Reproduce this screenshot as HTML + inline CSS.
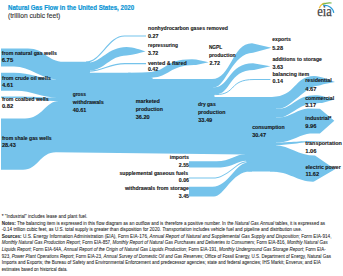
<!DOCTYPE html>
<html><head><meta charset="utf-8">
<style>
html,body{margin:0;padding:0;background:#fff;width:343px;height:276px;overflow:hidden}
svg{display:block}
</style></head><body>
<svg width="343" height="276" viewBox="0 0 343 276">
<g fill="#75c3eb">
<path d="M1,48.4 L28,48.4 C45,48.4 47,61.7 64,61.7 L90,61.7 L90,71.3 L89.9,72.7 L130,72.7 L152.6,77.5 L152.6,79.1 L212,79.1 L214.6,97 L276,97 L276,171.5 L248.4,171.5 L244.7,154.4 L56,152.3 C40,152.3 38,169.8 23,169.8 L1,169.8 Z"/>
<path d="M86,62.1 C101,62.1 108,36 124.5,36 L146,36" fill="none" stroke="#75c3eb" stroke-width="1.1"/>
<path d="M89,62.4 C101,62.4 108,47.1 126.5,47.1 C134,47.1 140,50 145.5,51.4 C140,52.8 134,54.6 126.5,55.4 C110,55.4 104,70.6 89,70.6 Z"/>
<path d="M89,71.2 C104,71.2 108,63.6 125,63.6 L146,63.6" fill="none" stroke="#75c3eb" stroke-width="1.1"/>
<path d="M128,72.7 L142,72.5 C170.8,72.5 162,59.3 192,59.3 L196,59.4 L208.7,62.2 L196,65 L194,65 C170.2,65 168.1,77.5 152.6,77.5 L128,77.5 Z"/>
<path d="M205,79.1 L212,79.1 C231,79.1 232,43.2 252,43.2 L271.4,47.7 L253,52.8 C232.5,52.8 225.5,87.2 214.6,87.2 L205,87.2 Z"/>
<path d="M205,87.2 L214.6,87.2 C229,87.2 229,63.2 253,63.2 L270.4,66.3 L254,70 C228.2,70 231.1,94.4 215.8,94.4 L205,94.4 Z"/>
<path d="M210,94.6 L215.8,94.6 C236.8,94.6 228.2,79.5 254,79.5 L270.4,79.5" fill="none" stroke="#75c3eb" stroke-width="1"/>
<path d="M270,97 L272,97 C296.1,96.7 294.1,76.1 314,76.1 C318,76.1 321,77.3 323.3,77.8 L335,81.9 L323.3,84.3 C321,84.8 319.5,85.8 318,85.8 C306.6,85.8 289.4,108.6 279.9,108.6 L270,108.6 Z"/>
<path d="M270,108.6 L279.9,108.6 C291.3,108.6 296.6,95.2 315,95.2 C318,95.2 321,95.6 322.1,95.9 L334.4,99.5 L322,103 C318,103.2 316,103.2 314,103.2 C300.4,103.2 288.4,117.5 279.9,117.5 L270,117.5 Z"/>
<path d="M270,117.5 L279.9,117.5 C289.7,117.5 298.9,108.6 308,108.6 L319.9,108.8 L334.3,120.7 L319.9,133.5 L310,133.6 C302.2,133.6 290.6,142.5 279,142.5 L270,142.5 Z"/>
<path d="M270,142.5 L279,142.5 C280.4,142.5 307.3,140.9 308,140.9 L333.8,141.4 L308,142 C308,142 281.6,145.4 276.9,145.4 L270,145.4 Z"/>
<path d="M270,145.4 L276.9,145.4 C288.3,145.4 298.8,155.6 315,155.6 L335,169.2 L314,181.6 L313,181.7 C296.9,181.7 290.4,171.5 270,171.5 Z"/>
<path d="M189,161.3 L216.6,161.3 C230,161.3 236,154.3 245.2,154.3 L252,154.3 L252,160.8 L246.5,160.8 C238,160.8 232,167.4 220.7,167.4 L189,167.4 Z"/>
<path d="M189,177.6 L212.5,177.6 C228,177.6 236,161.2 246.5,161.2 L247.2,162.2 C236,162.2 228,178.6 212.5,178.6 L189,178.6 Z"/>
<path d="M189,186.8 L212.5,186.8 C228,186.8 236,162.7 247.2,162.7 L252,162.7 L252,171.5 L250,171.5 C232,171.5 223.9,196.6 214,196.6 L189,196.6 Z"/>
</g>
<g fill="#fff">
<path d="M1,66.6 L14,66.6 C30,66.6 42,79.5 57,79.5 C42,79.5 30,72.8 14,72.8 L1,72.8 Z"/>
<path d="M1,90.8 L16,90.8 C32,90.8 42,97.6 57,97.6 C42,97.6 32,96.4 16,96.4 L1,96.4 Z"/>
<path d="M1,97.9 L16,97.9 C32,97.9 44,101.1 58.7,101.1 C46,101.1 42,118.6 25,118.6 L1,118.6 Z"/>
</g>
<text x="8.0" y="10.2" font-family="Liberation Sans" font-weight="bold" font-size="6.8" fill="#0b95d5" stroke="#0b95d5" stroke-width="0.2" textLength="126.2" lengthAdjust="spacingAndGlyphs">Natural Gas Flow in the United States, 2020</text>
<text x="8.0" y="18.4" font-family="Liberation Sans" font-size="6.9" fill="#2e2e2e" stroke="#2e2e2e" stroke-width="0.1" textLength="52.2" lengthAdjust="spacingAndGlyphs">(trillion cubic feet)</text>
<g font-family="Liberation Sans" font-weight="bold" font-size="5.7" fill="#141414" stroke="#141414" stroke-width="0.1">
<text x="1.70" y="55.00" textLength="55.20" lengthAdjust="spacingAndGlyphs">from natural gas wells</text>
<text x="1.70" y="62.20" textLength="11.50" lengthAdjust="spacingAndGlyphs">6.75</text>
<text x="1.90" y="79.90" textLength="48.90" lengthAdjust="spacingAndGlyphs">from crude oil wells</text>
<text x="1.90" y="86.90" textLength="11.30" lengthAdjust="spacingAndGlyphs">4.61</text>
<text x="1.90" y="100.80" textLength="46.80" lengthAdjust="spacingAndGlyphs">from coalbed wells</text>
<text x="1.90" y="108.40" textLength="11.30" lengthAdjust="spacingAndGlyphs">0.82</text>
<text x="1.90" y="139.90" textLength="49.80" lengthAdjust="spacingAndGlyphs">from shale gas wells</text>
<text x="1.90" y="146.90" textLength="13.90" lengthAdjust="spacingAndGlyphs">28.43</text>
<text x="72.70" y="96.20" textLength="13.40" lengthAdjust="spacingAndGlyphs">gross</text>
<text x="72.70" y="104.00" textLength="31.20" lengthAdjust="spacingAndGlyphs">withdrawals</text>
<text x="72.70" y="112.10" textLength="13.70" lengthAdjust="spacingAndGlyphs">40.61</text>
<text x="135.70" y="102.70" textLength="24.10" lengthAdjust="spacingAndGlyphs">marketed</text>
<text x="135.70" y="110.70" textLength="27.20" lengthAdjust="spacingAndGlyphs">production</text>
<text x="135.70" y="118.60" textLength="14.00" lengthAdjust="spacingAndGlyphs">36.20</text>
<text x="197.90" y="105.80" textLength="17.80" lengthAdjust="spacingAndGlyphs">dry gas</text>
<text x="197.90" y="113.80" textLength="27.50" lengthAdjust="spacingAndGlyphs">production</text>
<text x="198.20" y="122.40" textLength="14.00" lengthAdjust="spacingAndGlyphs">33.49</text>
<text x="252.20" y="128.90" textLength="32.40" lengthAdjust="spacingAndGlyphs">consumption</text>
<text x="252.20" y="137.20" textLength="13.80" lengthAdjust="spacingAndGlyphs">30.47</text>
<text x="148.10" y="30.40" textLength="79.80" lengthAdjust="spacingAndGlyphs">nonhydrocarbon gases removed</text>
<text x="148.10" y="37.80" textLength="10.50" lengthAdjust="spacingAndGlyphs">0.27</text>
<text x="148.10" y="47.20" textLength="29.80" lengthAdjust="spacingAndGlyphs">repressuring</text>
<text x="148.10" y="54.60" textLength="10.20" lengthAdjust="spacingAndGlyphs">3.72</text>
<text x="147.90" y="65.10" textLength="38.80" lengthAdjust="spacingAndGlyphs">vented &amp; flared</text>
<text x="147.90" y="71.20" textLength="10.20" lengthAdjust="spacingAndGlyphs">0.42</text>
<text x="208.90" y="48.70" textLength="13.40" lengthAdjust="spacingAndGlyphs">NGPL</text>
<text x="208.90" y="56.90" textLength="26.80" lengthAdjust="spacingAndGlyphs">production</text>
<text x="209.40" y="64.50" textLength="10.50" lengthAdjust="spacingAndGlyphs">2.72</text>
<text x="272.20" y="41.10" textLength="18.60" lengthAdjust="spacingAndGlyphs">exports</text>
<text x="272.20" y="49.70" textLength="10.80" lengthAdjust="spacingAndGlyphs">5.28</text>
<text x="272.40" y="60.60" textLength="49.60" lengthAdjust="spacingAndGlyphs">additions to storage</text>
<text x="272.40" y="68.60" textLength="10.50" lengthAdjust="spacingAndGlyphs">3.63</text>
<text x="272.40" y="75.90" textLength="36.70" lengthAdjust="spacingAndGlyphs">balancing item</text>
<text x="272.40" y="83.20" textLength="10.50" lengthAdjust="spacingAndGlyphs">0.14</text>
<text x="305.20" y="82.30" textLength="26.60" lengthAdjust="spacingAndGlyphs">residential</text>
<text x="305.20" y="90.90" textLength="11.20" lengthAdjust="spacingAndGlyphs">4.67</text>
<text x="305.20" y="99.60" textLength="28.90" lengthAdjust="spacingAndGlyphs">commercial</text>
<text x="305.20" y="107.30" textLength="10.90" lengthAdjust="spacingAndGlyphs">3.17</text>
<text x="305.20" y="119.80" textLength="26.10" lengthAdjust="spacingAndGlyphs">industrial*</text>
<text x="305.20" y="128.00" textLength="11.20" lengthAdjust="spacingAndGlyphs">9.96</text>
<text x="305.20" y="145.20" textLength="36.60" lengthAdjust="spacingAndGlyphs">transportation</text>
<text x="305.20" y="153.00" textLength="11.20" lengthAdjust="spacingAndGlyphs">1.06</text>
<text x="305.40" y="168.70" textLength="35.40" lengthAdjust="spacingAndGlyphs">electric power</text>
<text x="305.40" y="176.20" textLength="13.70" lengthAdjust="spacingAndGlyphs">11.62</text>
<text x="169.70" y="159.10" textLength="19.30" lengthAdjust="spacingAndGlyphs">imports</text>
<text x="178.80" y="166.70" textLength="10.20" lengthAdjust="spacingAndGlyphs">2.55</text>
<text x="119.40" y="174.50" textLength="68.70" lengthAdjust="spacingAndGlyphs">supplemental gaseous fuels</text>
<text x="178.80" y="182.20" textLength="10.20" lengthAdjust="spacingAndGlyphs">0.06</text>
<text x="125.00" y="190.20" textLength="64.00" lengthAdjust="spacingAndGlyphs">withdrawals from storage</text>
<text x="178.80" y="197.50" textLength="10.20" lengthAdjust="spacingAndGlyphs">3.45</text>
</g>
<g font-family="Liberation Sans" font-size="4.7" fill="#262626" stroke="#262626" stroke-width="0.06">
<text x="1.7" y="217.90" textLength="85.70" lengthAdjust="spacingAndGlyphs">* "Industrial" includes lease and plant fuel.</text>
<text x="1.7" y="224.51" textLength="323.30" lengthAdjust="spacingAndGlyphs"><tspan font-weight="bold">Notes:</tspan> The balancing item is expressed in this flow diagram as an outflow and is therefore a positive number. In the <tspan font-style="italic">Natural Gas Annual</tspan> tables, it is expressed as</text>
<text x="1.7" y="231.12" textLength="300.30" lengthAdjust="spacingAndGlyphs">-0.14 trillion cubic feet, as U.S. total supply is greater than disposition for 2020. <tspan font-style="italic">Transportation</tspan> includes vehicle fuel and pipeline and distribution use.</text>
<text x="1.7" y="237.73" textLength="329.80" lengthAdjust="spacingAndGlyphs"><tspan font-weight="bold">Sources:</tspan>  U.S. Energy Information Administration (EIA), Form EIA-176, <tspan font-style="italic">Annual Report of Natural and Supplemental Gas Supply and Disposition</tspan>; Form EIA-914,</text>
<text x="1.7" y="244.34" textLength="326.00" lengthAdjust="spacingAndGlyphs"><tspan font-style="italic">Monthly Natural Gas Production Report</tspan>; Form EIA-857, <tspan font-style="italic">Monthly Report of Natural Gas Purchases and Deliveries to Consumers</tspan>; Form EIA-816, <tspan font-style="italic">Monthly Natural Gas</tspan></text>
<text x="1.7" y="250.95" textLength="324.10" lengthAdjust="spacingAndGlyphs"><tspan font-style="italic">Liquids Report</tspan>; Form EIA-64A, <tspan font-style="italic">Annual Report of the Origin of Natural Gas Liquids Production</tspan>; Form EIA-191, <tspan font-style="italic">Monthly Underground Gas Storage Report</tspan>; Form EIA-</text>
<text x="1.7" y="257.56" textLength="329.30" lengthAdjust="spacingAndGlyphs">923, <tspan font-style="italic">Power Plant Operations Report</tspan>; Form EIA-23, <tspan font-style="italic">Annual Survey of Domestic Oil and Gas Reserves</tspan>; Office of Fossil Energy, U.S. Department of Energy, Natural Gas</text>
<text x="1.7" y="264.17" textLength="319.10" lengthAdjust="spacingAndGlyphs">Imports and Exports; the Bureau of Safety and Environmental Enforcement and predecessor agencies; state and federal agencies; IHS Markit; Enverus; and EIA</text>
<text x="1.7" y="270.78" textLength="65.80" lengthAdjust="spacingAndGlyphs">estimates based on historical data.</text>
</g>
<g>
<path d="M319.3,8.2 C320.5,5.2 322.5,3.6 324.8,3.2" fill="none" stroke="#f2c33a" stroke-width="1.3"/>
<path d="M322.4,4.6 C325,3.2 328.5,2.6 331.6,3" fill="none" stroke="#7ab648" stroke-width="1.1"/>
<path d="M323.2,5.6 C328,4.8 333,7.5 333.8,12.8" fill="none" stroke="#2a9bd7" stroke-width="1.2"/>
<text x="317.2" y="15.9" font-family="Liberation Serif" font-size="14.5" fill="#444" stroke="#444" stroke-width="0.25" textLength="14.6" lengthAdjust="spacingAndGlyphs">eia</text>
</g>
</svg>
</body></html>
